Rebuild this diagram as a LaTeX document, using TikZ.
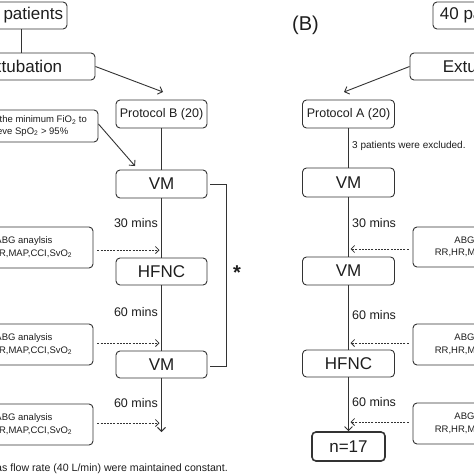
\documentclass[tikz,border=0pt]{standalone}
\usepackage{fontspec}
\setmainfont{Liberation Sans}
\usetikzlibrary{arrows.meta}
\definecolor{ln}{HTML}{333333}
\definecolor{tx}{HTML}{1E1E1E}
\begin{document}
\begin{tikzpicture}[x=1pt,y=-1pt,
 box/.style={draw=ln, line width=0.9pt, rounded corners=4pt, inner sep=0pt, text=tx, align=center},
 big/.style={font=\fontsize{17}{20}\selectfont},
 mid/.style={font=\fontsize{12.5}{15}\selectfont},
 small/.style={font=\fontsize{9.5}{12.5}\selectfont},
 lab/.style={text=tx, inner sep=0pt},
 flow/.style={draw=ln, line width=0.9pt},
 arr/.style={flow, -{Straight Barb[length=4pt,width=8pt]}},
 darr/.style={draw=ln, line width=0.8pt, dash pattern=on 2pt off 1.2pt, -{Straight Barb[length=3.5pt,width=7pt]}}
]
\useasboundingbox (0,0) rectangle (474,474);
\clip (0,0) rectangle (474,474);
\fill[white] (0,0) rectangle (474,474);

% ---------- left panel ----------
\node[box,big,minimum width=91pt,minimum height=27pt] (patL) at (21.5,15.5) {40 patients};
\node[box,big,minimum width=146pt,minimum height=27pt] (extL) at (22,66.5) {Extubation};
\node[box,mid,minimum width=91pt,minimum height=28pt] (protB) at (161.5,114) {Protocol B (20)};
\node[box,small,minimum width=148pt,minimum height=32pt,font=\fontsize{9.5}{11.5}\selectfont] (fio) at (24,126) {Maintain the minimum FiO\textsubscript{2} to\\achieve SpO\textsubscript{2} > 95\%};
\node[box,big,minimum width=91pt,minimum height=28pt] (vm1) at (161.5,184) {VM};
\node[box,small,minimum width=138pt,minimum height=41pt] (abg1) at (24,247.5) {ABG anaylsis\\RR,HR,MAP,CCI,SvO\textsubscript{2}};
\node[box,big,minimum width=91pt,minimum height=27pt] (hfnc1) at (161.5,271.5) {HFNC};
\node[box,small,minimum width=138pt,minimum height=41pt] (abg2) at (24,344.5) {ABG analysis\\RR,HR,MAP,CCI,SvO\textsubscript{2}};
\node[box,big,minimum width=91pt,minimum height=27pt] (vm2) at (161.5,364.5) {VM};
\node[box,small,minimum width=138pt,minimum height=41pt] (abg3) at (24,424.5) {ABG analysis\\RR,HR,MAP,CCI,SvO\textsubscript{2}};
\coordinate (endL) at (161.5,432);
\coordinate (tB) at (163,92);
\coordinate (tF) at (135,166);
\coordinate (d1) at (159.5,250);
\coordinate (d2) at (159.5,343);
\coordinate (d3) at (159.5,423);

\draw[flow] (patL.south -| 21,0) -- (extL.north -| 21,0);
\draw[arr] (extL.east) -- (tB);
\draw[arr] ([yshift=2pt]fio.east) -- (tF);
\draw[flow] (protB) -- (vm1);
\draw[flow] (vm1) -- (hfnc1);
\draw[flow] (hfnc1) -- (vm2);
\draw[arr] (vm2.south) -- (endL);
\draw[darr] ([xshift=4pt]abg1.east |- d1) -- (d1);
\draw[darr] ([xshift=4pt]abg2.east |- d2) -- (d2);
\draw[darr] ([xshift=4pt]abg3.east |- d3) -- (d3);

\node[lab,mid,anchor=east] (m1) at (158,223.5) {30 mins};
\node[lab,mid,anchor=east] (m2) at (158,312.5) {60 mins};
\node[lab,mid,anchor=east] (m3) at (158,403.5) {60 mins};

\draw[flow] ([xshift=3pt]vm1.east) -- ++(16,0) |- ([xshift=3pt,yshift=-1.5pt]vm2.east);
\node[lab,anchor=base,font=\fontsize{20}{20}\selectfont\bfseries] (star) at (237,279) {*};

\node[lab,anchor=base east,font=\fontsize{10.6}{12}\selectfont] (note) at (228,471.5) {FiO\textsubscript{2} and gas flow rate (40 L/min) were maintained constant.};

% ---------- right panel ----------
\node[lab,font=\fontsize{20}{20}\selectfont] (B) at (305.5,25) {(B)};
\node[box,big,minimum width=97pt,minimum height=27pt] (patR) at (481.5,15.5) {40 patients};
\node[box,big,minimum width=146pt,minimum height=27pt] (extR) at (483,66.5) {Extubation};
\node[box,mid,minimum width=92pt,minimum height=28pt] (protA) at (348.5,114) {Protocol A (20)};
\node[box,big,minimum width=92pt,minimum height=29pt] (vm1r) at (348.5,182.5) {VM};
\node[box,small,minimum width=140pt,minimum height=40pt] (abg1r) at (483,247) {ABG analysis\\RR,HR,MAP,CCI,SvO\textsubscript{2}};
\node[box,big,minimum width=92pt,minimum height=28pt] (vm2r) at (348.5,271) {VM};
\node[box,small,minimum width=140pt,minimum height=41pt] (abg2r) at (483,344.5) {ABG analysis\\RR,HR,MAP,CCI,SvO\textsubscript{2}};
\node[box,big,minimum width=92pt,minimum height=27pt] (hfncr) at (348.5,363.5) {HFNC};
\node[box,small,minimum width=140pt,minimum height=41pt] (abg3r) at (483,423.5) {ABG analysis\\RR,HR,MAP,CCI,SvO\textsubscript{2}};
\node[box,big,line width=1.6pt,minimum width=73pt,minimum height=29pt] (n17) at (348.5,446.5) {n=17};
\coordinate (tA) at (344,92);
\coordinate (e1) at (350.5,249);
\coordinate (e2) at (350.5,343);
\coordinate (e3) at (350.5,422);

\draw[arr] (extR.west) -- (tA);
\draw[flow] (protA) -- (vm1r);
\draw[flow] (vm1r) -- (vm2r);
\draw[flow] (vm2r) -- (hfncr);
\draw[arr] (hfncr) -- (n17);
\draw[darr] ([xshift=-4pt]abg1r.west |- e1) -- (e1);
\draw[darr] ([xshift=-4pt]abg2r.west |- e2) -- (e2);
\draw[darr] ([xshift=-4pt]abg3r.west |- e3) -- (e3);

\node[lab,font=\fontsize{10}{12}\selectfont,anchor=west] (excl) at (352,146) {3 patients were excluded.};
\node[lab,mid,anchor=west] (r1) at (352,223.5) {30 mins};
\node[lab,mid,anchor=west] (r2) at (352,315) {60 mins};
\node[lab,mid,anchor=west] (r3) at (352,402.5) {60 mins};
\end{tikzpicture}
\end{document}
